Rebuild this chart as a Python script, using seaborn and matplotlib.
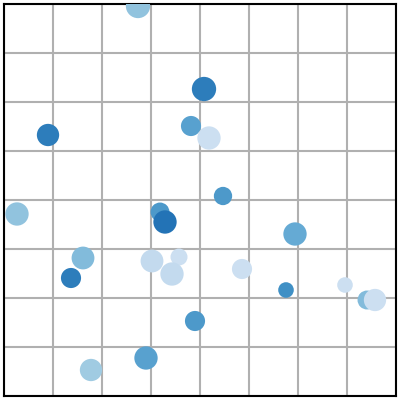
import matplotlib
matplotlib.use("Agg")
import matplotlib.pyplot as plt
import seaborn as sns
import pandas as pd

px = [138,204,48,191,209,17,223,160,165,295,83,71,152,179,172,242,286,345,367,375,195,146,91]
py = [6,89,135,126,138,214,196,212,222,234,258,278,261,257,274,269,290,285,300,300,321,358,370]
x = [(p-4)/49 for p in px]
y = [(396-p)/49 for p in py]
shade = [0.55,0.95,0.95,0.75,0.3,0.55,0.8,0.8,1.0,0.7,0.6,0.95,0.35,0.3,0.35,0.3,0.85,0.3,0.6,0.3,0.8,0.75,0.5]
size = [0.9,0.9,0.7,0.5,0.8,0.8,0.35,0.4,0.8,0.8,0.75,0.5,0.75,0.25,0.8,0.5,0.15,0.15,0.4,0.7,0.5,0.8,0.7]

df = pd.DataFrame({"x": x, "y": y, "shade": shade, "size": size})

sns.set_style("white")
fig = plt.figure(figsize=(4, 4), dpi=100)
ax = fig.add_axes([0.01, 0.01, 0.98, 0.98])
sns.scatterplot(data=df, x="x", y="y", hue="shade", size="size", palette="Blues",
                hue_norm=(0, 1.35), sizes=(90, 330), size_norm=(0, 1),
                linewidth=0, legend=False, ax=ax, zorder=3)
ax.set_xlim(0, 8)
ax.set_ylim(0, 8)
ax.set_xticks(range(9))
ax.set_yticks(range(9))
ax.set_xticklabels([])
ax.set_yticklabels([])
ax.tick_params(length=0)
ax.set_xlabel("")
ax.set_ylabel("")
ax.grid(True, color="#b0b0b0", linewidth=1.5, zorder=0)
ax.set_axisbelow(True)
for s in ax.spines.values():
    s.set_color("black")
    s.set_linewidth(1.5)
fig.savefig("out.png", dpi=100)
